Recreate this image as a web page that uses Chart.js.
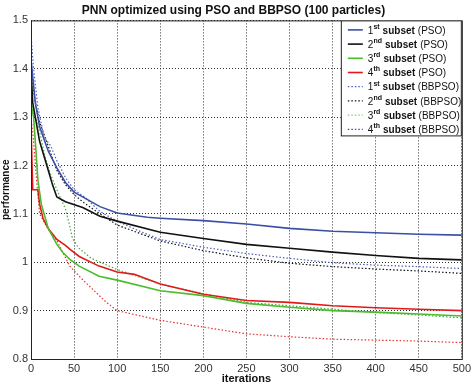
<!DOCTYPE html>
<html>
<head>
<meta charset="utf-8">
<script src="https://cdn.jsdelivr.net/npm/chart.js@4"></script>
<style>
  html, body { margin: 0; padding: 0; background: #fff; }
  #wrap { width: 474px; height: 386px; }
</style>
</head>
<body>
<div id="wrap"><canvas id="pnnChart" width="474" height="386"></canvas></div>
<script>
// --- Data (iteration, performance) ---
const xTicks = [0, 50, 100, 150, 200, 250, 300, 350, 400, 450, 500];

const psoBlueX = [0, 5, 10, 20, 30, 40, 50, 62, 80, 100, 135, 150, 200, 250, 300, 350, 400, 450, 500];
const psoBlueY = [1.42, 1.33, 1.28, 1.23, 1.195, 1.165, 1.145, 1.133, 1.115, 1.102, 1.093, 1.091, 1.086, 1.079, 1.070, 1.064, 1.061, 1.058, 1.056];

const psoBlackX = [0, 2, 5, 10, 15, 20, 25, 30, 40, 60, 80, 100, 150, 200, 250, 300, 350, 400, 450, 500];
const psoBlackY = [1.40, 1.33, 1.30, 1.25, 1.22, 1.19, 1.16, 1.135, 1.125, 1.113, 1.095, 1.085, 1.062, 1.049, 1.037, 1.029, 1.021, 1.014, 1.008, 1.005];

const psoGreenX = [0, 3, 5, 8, 12, 20, 30, 37, 45, 56, 79, 100, 150, 200, 250, 300, 350, 400, 450, 500];
const psoGreenY = [1.33, 1.30, 1.25, 1.17, 1.12, 1.07, 1.037, 1.02, 1.006, 0.992, 0.971, 0.963, 0.941, 0.931, 0.915, 0.907, 0.900, 0.897, 0.893, 0.889];

const psoRedX = [0, 2, 8, 10, 14, 20, 30, 40, 45, 56, 79, 100, 120, 150, 200, 250, 300, 350, 400, 450, 500];
const psoRedY = [1.28, 1.15, 1.15, 1.12, 1.09, 1.07, 1.047, 1.035, 1.027, 1.012, 0.992, 0.98, 0.975, 0.955, 0.934, 0.921, 0.917, 0.910, 0.906, 0.903, 0.900];

const bbBlueX = [0, 3, 8, 15, 23, 30, 40, 50, 62, 80, 100, 125, 150, 200, 250, 300, 350, 400, 450, 500];
const bbBlueY = [1.47, 1.40, 1.32, 1.26, 1.24, 1.21, 1.175, 1.15, 1.135, 1.105, 1.085, 1.065, 1.047, 1.031, 1.018, 1.008, 0.999, 0.994, 0.991, 0.987];

const bbBlackX = [0, 5, 10, 20, 30, 40, 50, 60, 80, 100, 150, 200, 250, 300, 350, 400, 450, 500];
const bbBlackY = [1.40, 1.33, 1.29, 1.24, 1.19, 1.16, 1.14, 1.125, 1.10, 1.077, 1.044, 1.024, 1.009, 0.998, 0.991, 0.986, 0.982, 0.977];

const bbGreenX = [0, 5, 10, 16, 23, 30, 35, 40, 45, 48, 55, 70, 100, 150, 200, 250, 300, 350, 400, 450, 500];
const bbGreenY = [1.33, 1.30, 1.27, 1.22, 1.18, 1.15, 1.13, 1.11, 1.075, 1.05, 1.03, 1.008, 0.985, 0.955, 0.935, 0.917, 0.910, 0.903, 0.896, 0.891, 0.885];

const bbRedX = [0, 3, 6, 10, 20, 30, 35, 45, 56, 71, 87, 100, 150, 200, 250, 300, 350, 400, 450, 500];
const bbRedY = [1.30, 1.25, 1.18, 1.10, 1.068, 1.045, 1.027, 0.992, 0.971, 0.945, 0.918, 0.90, 0.880, 0.866, 0.852, 0.846, 0.841, 0.839, 0.837, 0.834];

// legend text pieces
const ordinals = ['1', '2', '3', '4', '1', '2', '3', '4'];
const ordSup = ['st', 'nd', 'rd', 'th', 'st', 'nd', 'rd', 'th'];
const methods = ['(PSO)', '(PSO)', '(PSO)', '(PSO)', '(BBPSO)', '(BBPSO)', '(BBPSO)', '(BBPSO)'];

const pts = (xs, ys) => xs.map((x, i) => ({ x: x, y: ys[i] }));

const solid = (data, color) => ({
    data: data,
    borderColor: color,
    borderWidth: 1.6,
    pointRadius: 0,
    tension: 0,
    fill: false
});
const dotted = (data, color, legendColor) => ({
    data: data,
    borderColor: color,
    legendColor: legendColor || color,
    borderWidth: 1.2,
    borderDash: [1.5, 2],
    pointRadius: 0,
    tension: 0,
    fill: false
});

const datasets = [
    solid(pts(psoBlueX, psoBlueY), '#3c4fa6'),
    solid(pts(psoBlackX, psoBlackY), '#111111'),
    solid(pts(psoGreenX, psoGreenY), '#4cbb2c'),
    solid(pts(psoRedX, psoRedY), '#e01a1a'),
    dotted(pts(bbBlueX, bbBlueY), '#4a5fc0'),
    dotted(pts(bbBlackX, bbBlackY), '#111111'),
    dotted(pts(bbGreenX, bbGreenY), '#3fae3a', '#7fd06a'),
    dotted(pts(bbRedX, bbRedY), '#e83030', '#3c4fa6')
];
// draw dotted ones behind the solid ones
datasets.forEach((d, i) => { d.order = i < 4 ? 0 : 1; });

// --- frame + legend drawn inside the plot, like the MATLAB figure ---
const framePlugin = {
    id: 'frame',
    afterDraw(chart) {
        const { ctx, chartArea: a } = chart;
        ctx.save();
        ctx.strokeStyle = '#222';
        ctx.lineWidth = 1;
        ctx.setLineDash([]);
        ctx.strokeRect(a.left + 0.5, a.top + 0.5, a.right - a.left, a.bottom - a.top);

        // legend box
        const w = 121, h = 115;
        const bx = a.right - w, by = a.top;
        ctx.fillStyle = '#fff';
        ctx.fillRect(bx, by, w, h);
        ctx.strokeRect(bx + 0.5, by + 0.5, w - 1, h);

        chart.data.datasets.forEach((ds, i) => {
            const y = by + 9.5 + i * 14.2;
            ctx.beginPath();
            ctx.strokeStyle = ds.legendColor || ds.borderColor;
            ctx.lineWidth = ds.borderDash ? 1.2 : 1.6;
            ctx.setLineDash(ds.borderDash || []);
            ctx.moveTo(bx + 7, y);
            ctx.lineTo(bx + 22, y);
            ctx.stroke();
            ctx.setLineDash([]);

            let tx = bx + 27;
            ctx.fillStyle = '#111';
            ctx.textBaseline = 'middle';
            ctx.font = '10px "Liberation Sans", Arial, sans-serif';
            ctx.fillText(ordinals[i], tx, y + 1);
            tx += ctx.measureText(ordinals[i]).width;
            ctx.font = 'bold 7px "Liberation Sans", Arial, sans-serif';
            ctx.fillText(ordSup[i], tx, y - 3);
            tx += ctx.measureText(ordSup[i]).width + 3;
            ctx.font = 'bold 10px "Liberation Sans", Arial, sans-serif';
            ctx.fillText('subset', tx, y + 1);
            tx += ctx.measureText('subset').width + 3;
            ctx.font = '10px "Liberation Sans", Arial, sans-serif';
            ctx.fillText(methods[i], tx, y + 1);
        });
        ctx.restore();
    }
};

const tickFont = { family: '"Liberation Sans", Arial, sans-serif', size: 11 };
const gridStyle = {
    color: '#333',
    lineWidth: 1,
    drawTicks: false
};

new Chart(document.getElementById('pnnChart').getContext('2d'), {
    type: 'line',
    data: { datasets: datasets },
    options: {
        responsive: false,
        animation: false,
        layout: { padding: { left: 0, right: 7, top: 0, bottom: 0 } },
        plugins: {
            legend: { display: false },
            tooltip: { enabled: false },
            title: {
                display: true,
                text: 'PNN optimized using PSO and BBPSO (100 particles)',
                color: '#111',
                font: { family: '"Liberation Sans", Arial, sans-serif', size: 12, weight: 'bold' },
                padding: { top: 3, bottom: 3 }
            }
        },
        scales: {
            x: {
                type: 'linear',
                min: 0,
                max: 500,
                afterBuildTicks: s => { s.ticks = xTicks.map(v => ({ value: v })); },
                ticks: { color: '#333', font: tickFont, padding: 3, maxRotation: 0 },
                grid: gridStyle,
                border: { display: false, dash: [1, 2] },
                title: {
                    display: true,
                    text: 'iterations',
                    color: '#111',
                    font: { family: '"Liberation Sans", Arial, sans-serif', size: 11, weight: 'bold' },
                    padding: { top: 0, bottom: 0 }
                },
                afterFit: s => { s.height = 27; }
            },
            y: {
                min: 0.8,
                max: 1.5,
                ticks: {
                    stepSize: 0.1,
                    color: '#333',
                    font: tickFont,
                    padding: 3,
                    callback: v => String(Number(v.toFixed(1)))
                },
                grid: gridStyle,
                border: { display: false, dash: [1, 2] },
                title: {
                    display: true,
                    text: 'performance',
                    color: '#111',
                    font: { family: '"Liberation Sans", Arial, sans-serif', size: 10, weight: 'bold' },
                    padding: { top: 0, bottom: 0 }
                },
                afterFit: s => { s.width = 31; }
            }
        }
    },
    plugins: [framePlugin]
});
</script>
</body>
</html>
